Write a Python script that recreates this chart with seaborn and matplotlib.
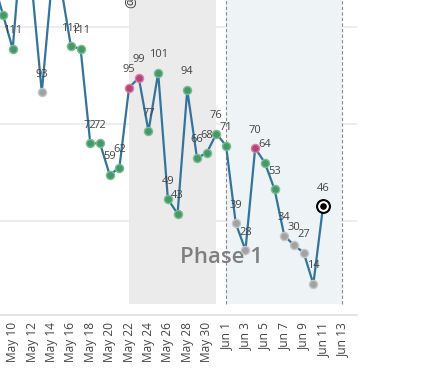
import pandas as pd
import matplotlib.pyplot as plt
import matplotlib.dates as mdates
from matplotlib.ticker import FuncFormatter
import seaborn as sns

# Daily values (May 8 .. Jun 11)
dates = pd.date_range('2020-05-08', '2020-06-11', freq='D')
values = [139, 125, 111, 159, 136, 93, 137, 136, 112, 111, 72, 72, 59, 62,
          95, 99, 77, 101, 49, 43, 94, 66, 68, 76,
          71, 39, 28, 70, 64, 53, 34, 30, 27, 14, 46]
kinds = (['ok'] * 5 + ['low'] + ['ok'] * 8 + ['high'] * 2 + ['ok'] * 9 +
         ['low'] * 2 + ['high'] + ['ok'] * 2 + ['low'] * 4 + ['last'])

phase_gray = ('2020-05-22', '2020-05-31')
phase_blue = ('2020-06-01', '2020-06-13')
phase_label = 'Phase 1'

df = pd.DataFrame({'date': dates, 'value': values, 'kind': kinds})

sns.set_style('white')
plt.rcParams['font.family'] = ['Open Sans', 'DejaVu Sans']

fig = plt.figure(figsize=(4.27, 3.74), dpi=100)
ax = fig.add_axes([0, 59 / 374, 357 / 427, 315 / 374])

x0 = mdates.date2num(pd.Timestamp('2020-05-10')) - 1.31
x1 = mdates.date2num(pd.Timestamp('2020-06-11')) + 3.5
ax.set_xlim(x0, x1)
ax.set_ylim(1.24, 131.1)

# gridlines
for g in [40, 80, 120]:
    ax.axhline(g, color='#ececec', lw=1.3, zorder=0)

# shaded phases
g0, g1 = [mdates.date2num(pd.Timestamp(d)) for d in phase_gray]
b0, b1 = [mdates.date2num(pd.Timestamp(d)) for d in phase_blue]
ax.fill_between([g0, g1], 5.8, 200, color='#ebebeb', lw=0, zorder=1)
ax.fill_between([b0, b1], 5.8, 200, color='#eef3f6', lw=0, zorder=1)
for xb in (b0, b1):
    ax.plot([xb, xb], [5.8, 200], color='#8a8a8a', lw=0.8, ls=(0, (3, 2)), zorder=1.5)

ax.text((g1 + b0) / 2 + 0.05, 25, phase_label, ha='center', va='center',
        fontsize=16, color='#7f7f7f', fontweight='semibold', zorder=2)
ax.text(g0 + 0.4, 127.8, '@ ' + phase_label, rotation=90, ha='center', va='bottom',
        fontsize=10, color='#444444', clip_on=False)

# line
sns.lineplot(data=df, x='date', y='value', color='#33739c', lw=1.6, ax=ax, zorder=3)

# markers by kind
styles = {'ok': ('#469866', '#79bd93'),
          'high': ('#b8427a', '#d77fa6'),
          'low': ('#a2a2a2', '#c6c6c6')}
for k, (fc, ec) in styles.items():
    sub = df[df['kind'] == k]
    sns.scatterplot(data=sub, x='date', y='value', color=fc, edgecolor=ec,
                    linewidth=1.0, s=34, ax=ax, zorder=4, legend=False)

last = df[df['kind'] == 'last']
ax.scatter(last['date'], last['value'], s=95, color='black', zorder=5)
ax.scatter(last['date'], last['value'], s=45, color='white', zorder=6)
ax.scatter(last['date'], last['value'], s=14, color='black', zorder=7)

# value labels
for d, v in zip(df['date'], df['value']):
    ax.annotate(str(v), (d, v), xytext=(0, 13), textcoords='offset points',
                ha='center', va='center', fontsize=8, color='#444444', zorder=8)

# axes styling
for s in ['top', 'right', 'left']:
    ax.spines[s].set_visible(False)
ax.spines['bottom'].set_color('#e2e2e2')
ax.spines['bottom'].set_linewidth(1.3)
ax.set_yticks([])
ax.set_xlabel('')
ax.set_ylabel('')

ticks = pd.date_range('2020-05-10', '2020-06-13', freq='2D')
ax.set_xticks(mdates.date2num(ticks))
ax.xaxis.set_major_formatter(FuncFormatter(
    lambda x, pos: f"{mdates.num2date(x):%b} {mdates.num2date(x).day}"))
ax.tick_params(axis='x', length=0, pad=5, labelsize=8.6, labelcolor='#444444',
               labelrotation=90)

fig.savefig('out.png', dpi=100)
